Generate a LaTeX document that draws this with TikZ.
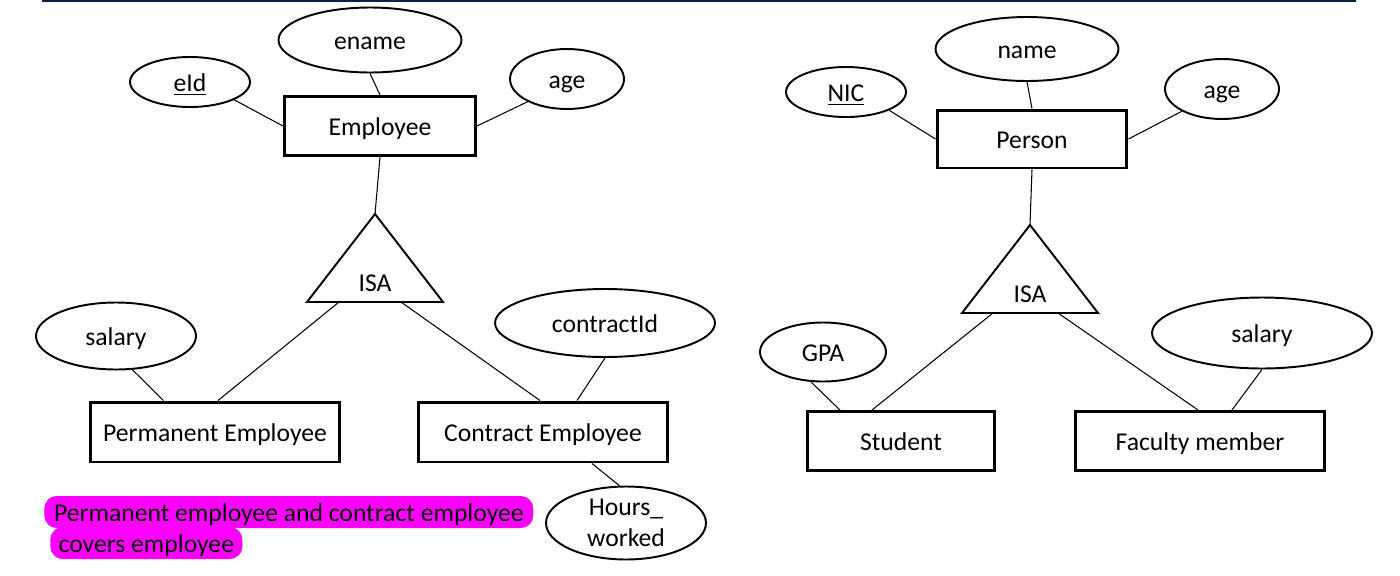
\documentclass[tikz,border=0pt]{standalone}
\usepackage{fontspec}
\setmainfont{Carlito}
\usetikzlibrary{shapes.geometric}
\definecolor{navy}{RGB}{12,32,72}
\definecolor{hilite}{RGB}{255,0,255}
\newcommand{\erfont}{\fontsize{14.6}{17.6}\selectfont}
\tikzset{
  txt/.style ={font=\erfont, text height=12pt, text depth=1.2pt},
  ent/.style ={rectangle, draw=black, line width=1.7pt, fill=white,
               inner sep=0pt, txt},
  attb/.style={ellipse, draw=black, line width=1.1pt, fill=white,
               inner sep=0pt, align=center, font=\erfont},
  att/.style ={attb, txt},
  lnk/.style ={draw=black, line width=0.6pt},
  tri/.style ={draw=black, line width=1.1pt, line join=miter},
  hl/.style  ={fill=hilite, rounded corners=7pt, inner xsep=4pt, inner ysep=0pt,
               minimum height=0.64cm, anchor=west, txt},
}

\begin{document}
\begin{tikzpicture}[x=0.02cm, y=-0.02cm]
\useasboundingbox (0,0) rectangle (1400,575);
\draw[navy, line width=1.2pt] (42,1) -- (1356,1);

% Employee hierarchy
\node[att, minimum width=3.66cm, minimum height=1.30cm] (ename) at (370,40) {ename};
\node[att, minimum width=2.40cm, minimum height=1.00cm] (eid) at (190,82) {\underline{eId}};
\node[att, minimum width=2.28cm, minimum height=1.20cm] (age1) at (567,79) {age};
\node[ent, minimum width=3.82cm, minimum height=1.18cm] (employee) at (380,126) {Employee};
\coordinate (isa1top) at (375,214);
\coordinate (isa1l) at (339,302);
\coordinate (isa1r) at (401,302);
\draw[tri] (isa1top) -- (443,302) -- (307,302) -- cycle;
\node[txt] (isa1) at (375,282) {ISA};
\node[att, minimum width=3.20cm, minimum height=1.34cm] (salary1) at (116,336) {salary};
\node[att, minimum width=4.40cm, minimum height=1.36cm] (contractid) at (605,323) {contractId};
\node[ent, minimum width=5.00cm, minimum height=1.20cm] (permemp) at (215,432) {Permanent Employee};
\node[ent, minimum width=5.00cm, minimum height=1.20cm] (contremp) at (543,432) {Contract Employee};
\node[attb, minimum width=3.20cm, minimum height=1.46cm] (hours) at (626,523) {Hours\_\\worked};
\node[hl, minimum width=9.78cm] (note1) at (44,512) {Permanent employee and contract employee};
\node[hl, minimum width=3.84cm] (note2) at (50,543) {covers employee};

\draw[lnk] (ename.south) -- (employee.north);
\draw[lnk] (eid.-22) -- (employee.west);
\draw[lnk] (age1.210) -- (employee.east);
\draw[lnk] (employee.south) -- (isa1top);
\draw[lnk] (isa1l) -- ([xshift=0.06cm]permemp.north);
\draw[lnk] (isa1r) -- ([xshift=-0.06cm]contremp.north);
\draw[lnk] (salary1.296) -- ([xshift=1.5cm]permemp.north west);
\draw[lnk] (contractid.south) -- ([xshift=0.68cm]contremp.north);
\draw[lnk] ([xshift=0.98cm]contremp.south) -- (hours.100);

% Person hierarchy
\node[att, minimum width=3.66cm, minimum height=1.28cm] (name) at (1027,49) {name};
\node[att, minimum width=2.40cm, minimum height=1.00cm] (nic) at (846,92) {\underline{NIC}};
\node[att, minimum width=2.28cm, minimum height=1.20cm] (age2) at (1222,89) {age};
\node[ent, minimum width=3.80cm, minimum height=1.16cm] (person) at (1032,139) {Person};
\coordinate (isa2top) at (1030,225);
\coordinate (isa2l) at (993,313);
\coordinate (isa2r) at (1058,313);
\draw[tri] (isa2top) -- (1098,313) -- (962,313) -- cycle;
\node[txt] (isa2) at (1030,293) {ISA};
\node[att, minimum width=2.52cm, minimum height=1.18cm] (gpa) at (823,352) {GPA};
\node[att, minimum width=4.40cm, minimum height=1.42cm] (salary2) at (1262,333) {salary};
\node[ent, minimum width=3.76cm, minimum height=1.18cm] (student) at (901,441) {Student};
\node[ent, minimum width=5.00cm, minimum height=1.18cm] (faculty) at (1200,441) {Faculty member};

\draw[lnk] (name.south) -- (person.north);
\draw[lnk] (nic.-23) -- (person.west);
\draw[lnk] (age2.209) -- (person.east);
\draw[lnk] (person.south) -- (isa2top);
\draw[lnk] (isa2l) -- ([xshift=-0.58cm]student.north);
\draw[lnk] (isa2r) -- ([xshift=-0.04cm]faculty.north);
\draw[lnk] (gpa.248) -- ([xshift=-1.22cm]student.north);
\draw[lnk] (salary2.south) -- ([xshift=0.64cm]faculty.north);
\end{tikzpicture}
\end{document}
